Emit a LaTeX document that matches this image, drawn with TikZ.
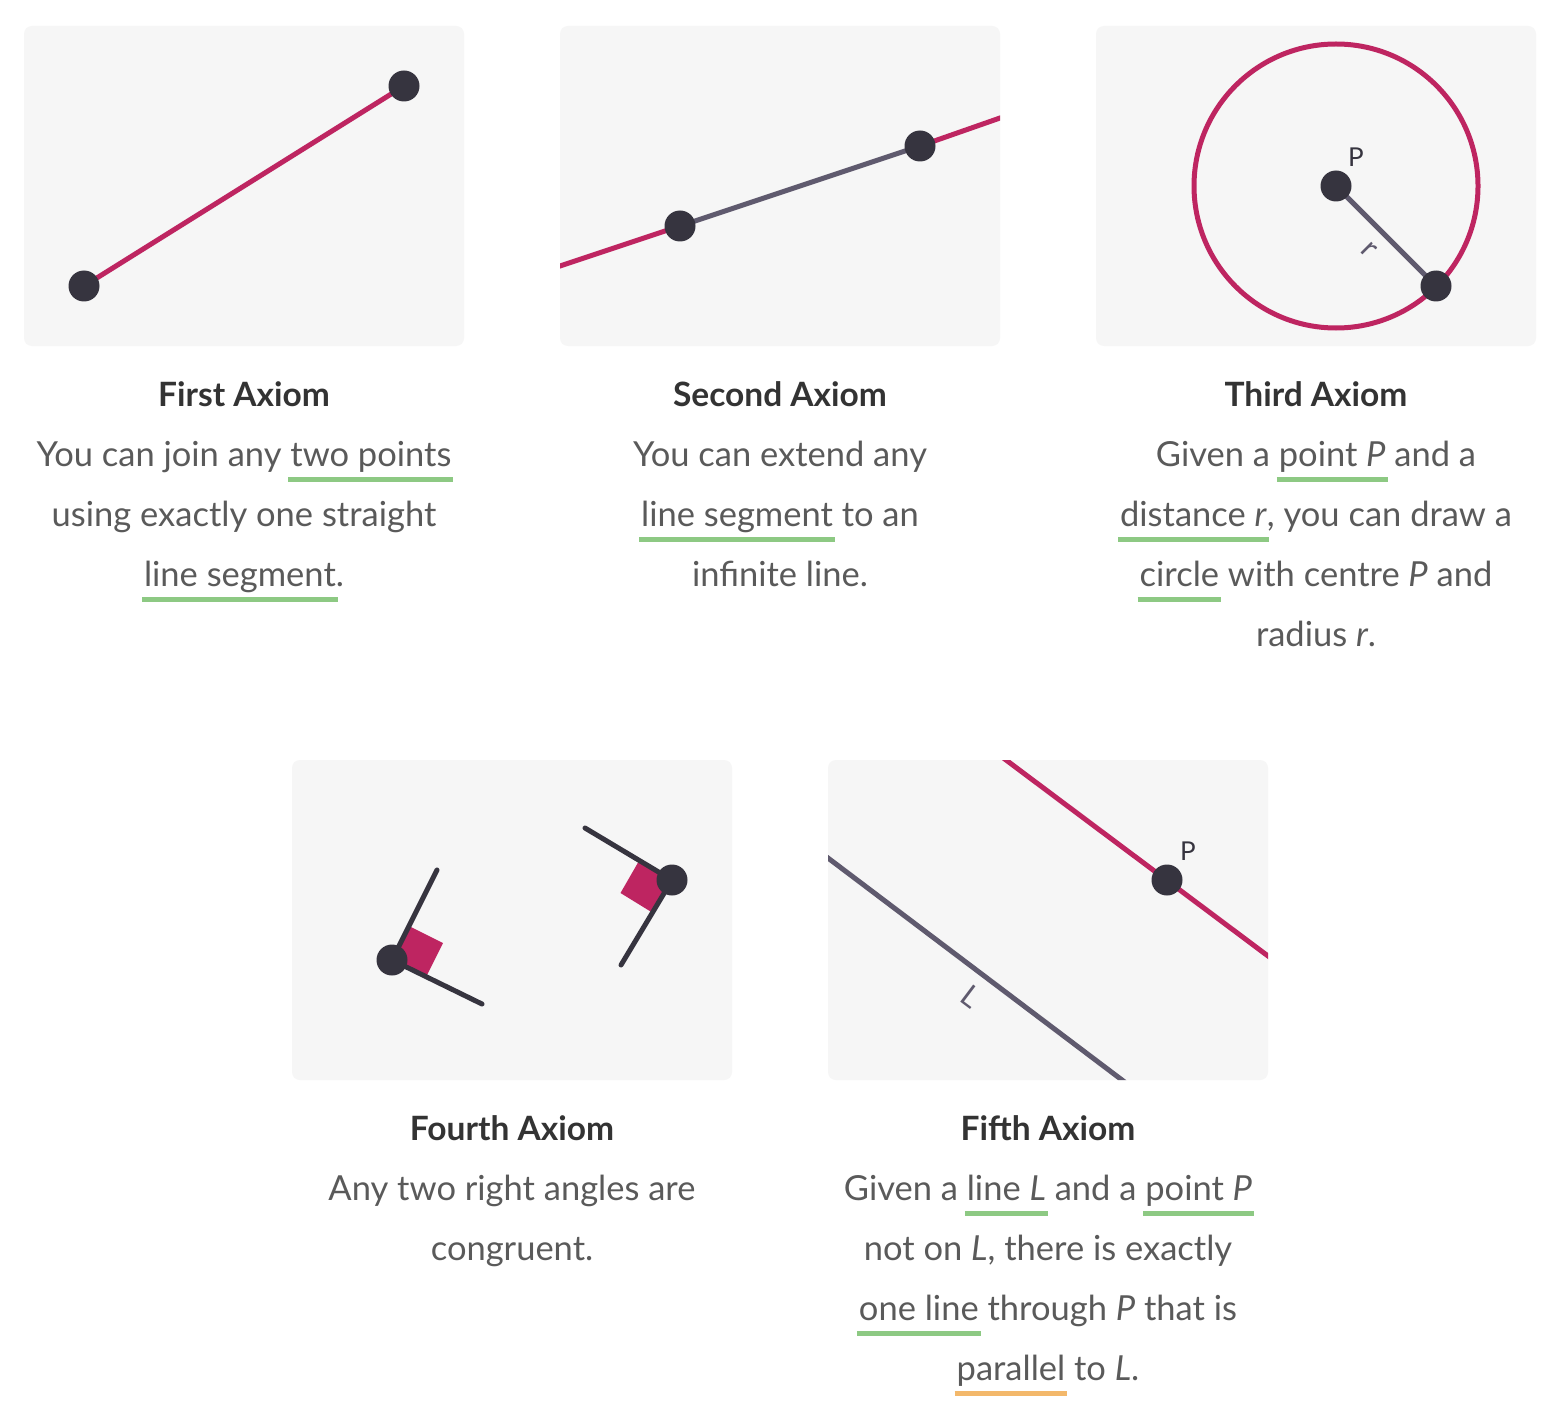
\documentclass[tikz,border=0pt]{standalone}
\usepackage{fontspec}
\setmainfont{Lato}
\usetikzlibrary{calc}
\definecolor{panel}{HTML}{F6F6F6}
\definecolor{crim}{HTML}{BE2561}
\definecolor{dotc}{HTML}{36343F}
\definecolor{seg}{HTML}{5F5A6E}
\definecolor{ugreen}{HTML}{8DC983}
\definecolor{uorange}{HTML}{F3B86B}
\definecolor{titlec}{HTML}{333333}
\definecolor{bodyc}{HTML}{5A5A5A}
\newcommand\hl[2][ugreen]{\setbox0\hbox{#2}\rlap{\kern-2pt\textcolor{#1}{\vrule width\dimexpr\wd0+4pt\relax height -11pt depth 16pt}}\box0\relax}
\tikzset{
  panelbox/.style={fill=panel, draw=none, rounded corners=8pt},
  dot/.style={circle, fill=dotc, draw=none, minimum size=31pt, inner sep=0pt},
  redline/.style={draw=crim, line width=5pt},
  segline/.style={draw=seg, line width=5pt},
  arm/.style={draw=dotc, line width=5pt, line cap=round},
  sq/.style={fill=crim, draw=none},
  ttl/.style={anchor=base, inner sep=0pt, text=titlec, font=\fontsize{33.5}{38}\selectfont\bfseries},
  bdy/.style={anchor=base, inner sep=0pt, text=bodyc, font=\fontsize{34.5}{40}\selectfont},
  lbl/.style={inner sep=0pt, text=dotc, font=\fontsize{26}{30}\selectfont},
  slbl/.style={inner sep=0pt, text=seg, font=\fontsize{30}{34}\selectfont},
}
\begin{document}
\begin{tikzpicture}[x=1pt, y=-1pt]
\useasboundingbox[fill=white] (0,0) rectangle (1562,1420);
% ---------- Panel 1
\fill[panelbox] (24,26) rectangle (464,346);
\coordinate (a1) at (84,286);
\coordinate (b1) at (404,86);
\draw[redline] (a1) -- (b1);
\node[dot] (pa1) at (a1) {};
\node[dot] (pb1) at (b1) {};
% ---------- Panel 2
\fill[panelbox] (560,26) rectangle (1000,346);
\begin{scope}
\clip[rounded corners=8pt] (560,26) rectangle (1000,346);
\coordinate (l2) at (560,266);
\coordinate (r2) at (1000,118);
\coordinate (a2) at (680,226);
\coordinate (b2) at (920,146);
\draw[redline] ($(l2)!-0.05!(a2)$) -- (a2);
\draw[redline] (b2) -- ($(b2)!1.05!(r2)$);
\draw[segline] (a2) -- (b2);
\end{scope}
\node[dot] (pa2) at (a2) {};
\node[dot] (pb2) at (b2) {};
% ---------- Panel 3
\fill[panelbox] (1096,26) rectangle (1536,346);
\coordinate (c3) at (1336,186);
\draw[crim, line width=5pt] (c3) circle[radius=142];
\coordinate (q3) at (1436,286);
\draw[segline] (c3) -- (q3);
\node[dot] (pc3) at (c3) {};
\node[dot] (pq3) at (q3) {};
\node[lbl] (P3) at (1356,157) {P};
\node[slbl, rotate=-45] (r3) at (1369,250) {r};
% ---------- Panel 4
\fill[panelbox] (292,760) rectangle (732,1080);
\coordinate (v4a) at (392,960);
\coordinate (e4a) at (437,870);
\coordinate (f4a) at (482,1004);
\fill[sq] (v4a) -- (409,926) -- (443,943) -- (426,977) -- cycle;
\draw[arm] (e4a) -- (v4a) -- (f4a);
\node[dot] (pv4a) at (v4a) {};
\coordinate (v4b) at (672,880);
\coordinate (e4b) at (585,828);
\coordinate (f4b) at (621,965);
\fill[sq] (v4b) -- (639.5,860) -- (620.5,893) -- (653,913) -- cycle;
\draw[arm] (e4b) -- (v4b) -- (f4b);
\node[dot] (pv4b) at (v4b) {};
% ---------- Panel 5
\fill[panelbox] (828,760) rectangle (1268,1080);
\begin{scope}
\clip[rounded corners=8pt] (828,760) rectangle (1268,1080);
\coordinate (s5) at (1006,760);
\coordinate (t5) at (1268,956);
\coordinate (u5) at (828,858);
\coordinate (w5) at (1122,1080);
\draw[redline] ($(s5)!-0.05!(t5)$) -- ($(s5)!1.05!(t5)$);
\draw[segline] ($(u5)!-0.05!(w5)$) -- ($(u5)!1.05!(w5)$);
\end{scope}
\node[dot] (p5) at (1167,880) {};
\node[lbl] (P5) at (1188,851) {P};
\node[slbl, rotate=-37] (L5) at (971,997) {L};
% ---------- Texts row 1
\node[ttl] (t1) at (244,406) {First Axiom};
\node[bdy] (t1a) at (244,466) {You can join any \hl{two points}};
\node[bdy] (t1b) at (244,526) {using exactly one straight};
\node[bdy] (t1c) at (244,586) {\hl{line segment}.};
\node[ttl] (t2) at (780,406) {Second Axiom};
\node[bdy] (t2a) at (780,466) {You can extend any};
\node[bdy] (t2b) at (780,526) {\hl{line segment} to an};
\node[bdy] (t2c) at (780,586) {infinite line.};
\node[ttl] (t3) at (1316,406) {Third Axiom};
\node[bdy] (t3a) at (1316,466) {Given a \hl{point \textit{P}} and a};
\node[bdy] (t3b) at (1316,526) {\hl{distance \textit{r}}, you can draw a};
\node[bdy] (t3c) at (1316,586) {\hl{circle} with centre \textit{P} and};
\node[bdy] (t3d) at (1316,646) {radius \textit{r}.};
% ---------- Texts row 2
\node[ttl] (t4) at (512,1140) {Fourth Axiom};
\node[bdy] (t4a) at (512,1200) {Any two right angles are};
\node[bdy] (t4b) at (512,1260) {congruent.};
\node[ttl] (t5) at (1048,1140) {Fifth Axiom};
\node[bdy] (t5a) at (1048,1200) {Given a \hl{line \textit{L}} and a \hl{point \textit{P}}};
\node[bdy] (t5b) at (1048,1260) {not on \textit{L}, there is exactly};
\node[bdy] (t5c) at (1048,1320) {\hl{one line} through \textit{P} that is};
\node[bdy] (t5d) at (1048,1380) {\hl[uorange]{parallel} to \textit{L}.};
\end{tikzpicture}
\end{document}
